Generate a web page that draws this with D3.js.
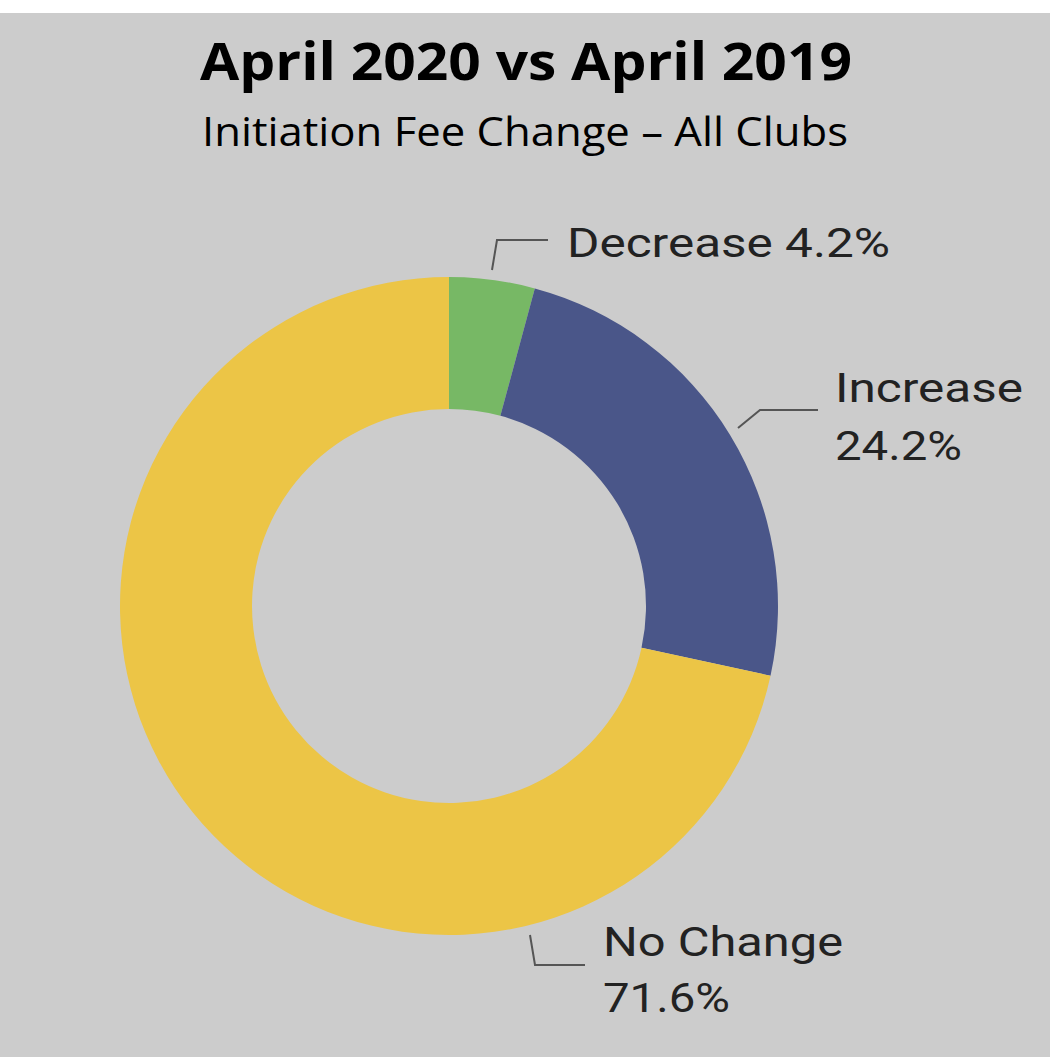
<!DOCTYPE html><html><head><script src="https://cdn.jsdelivr.net/npm/d3@7"></script>
<style>body{margin:0;background:#fff}</style></head><body><svg id="c" width="1050" height="1057"></svg>
<script>
const categories=["Decrease","Increase","No Change"];
const values=[4.2,24.2,71.6];
const colors=["#77b865","#4a5689","#ecc546"];
const svg=d3.select("#c");
svg.append("rect").attr("x",0).attr("y",13).attr("width",1050).attr("height",1044).attr("fill","#cccccc");
svg.append("text").attr("x",200).attr("y",80).attr("textLength",652).attr("lengthAdjust","spacingAndGlyphs").attr("font-family","Open Sans").attr("font-weight","bold").attr("font-size",52).text("April 2020 vs April 2019");
svg.append("text").attr("x",202).attr("y",146).attr("textLength",646).attr("lengthAdjust","spacingAndGlyphs").attr("font-family","Open Sans").attr("font-size",40).text("Initiation Fee Change – All Clubs");
const cx=449,cy=606,R=329,r=197;
const pie=d3.pie().sort(null).value(d=>d)(values);
const arc=d3.arc().innerRadius(r).outerRadius(R);
const g=svg.append("g").attr("transform",`translate(${cx},${cy})`);
g.selectAll("path").data(pie).join("path").attr("d",arc).attr("fill",(d,i)=>colors[i]);
const leaders=[
 {pts:[[492,270],[497,240],[548,240]],x:567,ys:[257],w:[323]},
 {pts:[[738,428],[760,410],[818,410]],x:835,ys:[402,460],w:[188,127]},
 {pts:[[530,935],[535,965],[585,965]],x:603,ys:[956,1012],w:[240,127]}];
leaders.forEach((L,i)=>{
 svg.append("path").attr("d",d3.line()(L.pts)).attr("fill","none").attr("stroke","#555").attr("stroke-width",2);
 const lines=L.ys.length===1?[categories[i]+" "+values[i].toFixed(1)+"%"]:[categories[i],values[i].toFixed(1)+"%"];
 lines.forEach((t,j)=>svg.append("text").attr("x",L.x).attr("y",L.ys[j]).attr("textLength",L.w[j]).attr("lengthAdjust","spacingAndGlyphs").attr("font-family","Roboto").attr("font-size",41).attr("fill","#222").text(t));
});
</script></body></html>
